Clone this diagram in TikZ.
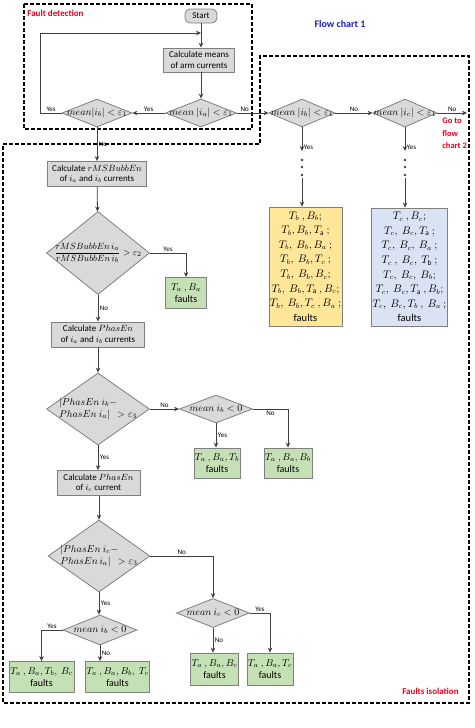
\documentclass[tikz,border=0pt]{standalone}
\usepackage{amsmath}
\usepackage{fontspec}
\setmainfont{Carlito}
\usetikzlibrary{arrows.meta, positioning, calc, shapes.geometric}

\definecolor{boxgray}{HTML}{D9D9D9}
\definecolor{edgegray}{HTML}{7F7F7F}
\definecolor{lineg}{HTML}{404040}
\definecolor{faultgreen}{HTML}{C5E0B4}
\definecolor{faultyellow}{HTML}{FFE699}
\definecolor{faultblue}{HTML}{DAE3F3}
\definecolor{tagred}{HTML}{E8001C}
\definecolor{tagblue}{HTML}{1A1AD6}

% text of a diamond, kept out of the diamond size
\newcommand{\dtext}[2][c]{\makebox[0pt]{\begin{tabular}{@{}#1@{}}#2\end{tabular}}}

\begin{document}
\begin{tikzpicture}[
  x=1pt, y=-1pt,
  >={Stealth[length=5pt, width=4.5pt]}, line width=0.8pt,
  font=\fontsize{9}{10.5}\selectfont,
  term/.style={rectangle, rounded corners=5pt, draw=edgegray, fill=boxgray, inner sep=1pt},
  proc/.style={rectangle, draw=edgegray, fill=boxgray, align=center, inner sep=1pt},
  test/.style={diamond, draw=edgegray, fill=boxgray, inner sep=0pt, font=\fontsize{10}{12}\selectfont},
  fault/.style={rectangle, draw=edgegray, fill=faultgreen, align=center, inner sep=1pt, font=\fontsize{10}{12.5}\selectfont},
  group/.style={rectangle, draw=edgegray, align=center, inner sep=1pt, font=\fontsize{10.5}{14.6}\selectfont},
  flow/.style={->, draw=lineg},
  yn/.style={font=\fontsize{7}{8}\selectfont, inner sep=1.5pt},
  zone/.style={draw=black, line width=1.5pt, dash pattern=on 4pt off 2pt},
  tag/.style={font=\fontsize{9}{12.5}\selectfont\bfseries, inner sep=0pt}
]
  \useasboundingbox (0,0) rectangle (474,728);

  % dashed zones
  \draw[zone] (24,4) rectangle (252,129);
  \draw[zone] (3,144) -- (260,144) -- (260,56) -- (469,56) -- (469,703) -- (3,703) -- cycle;
  \node[tag, text=tagred, anchor=west] (fdtag) at (27,13.5) {Fault detection};
  \node[tag, text=tagblue, font=\fontsize{10}{11}\selectfont\bfseries] (fctag) at (340,24) {Flow chart 1};
  \node[tag, text=tagred, anchor=north west, align=left, font=\fontsize{8.5}{12.5}\selectfont\bfseries] (gotag) at (442,118) {Go to\\flow\\chart 2};
  \node[tag, text=tagred, anchor=east] (fitag) at (459,691.5) {Faults isolation};

  % fault detection
  \node[term, minimum width=32, minimum height=14] (start) at (201,16) {Start};
  \node[proc, minimum width=71, minimum height=24] (means) at (199,60) {Calculate means\\of arm currents};
  \node[test, minimum width=71, minimum height=28] (ta) at (201,113) {\dtext{$mean\ |i_a| < \varepsilon_1$}};
  \node[test, minimum width=70, minimum height=28] (tb) at (97,113) {\dtext{$mean|i_b| < \varepsilon_1$}};
  \coordinate (loop) at (201,33);

  \draw[flow] (start) -- (start |- means.north);
  \draw[flow] (ta.north |- means.south) -- (ta.north);
  \draw[flow] (ta.west) -- node[yn, above] {Yes} (tb.east);
  \draw[flow] (tb.west) -- node[yn, above] {Yes} ++(-21,0) |- (loop);

  % other phases
  \node[test, minimum width=66, minimum height=28] (tb2) at (302,113) {\dtext{$mean\ |i_b| < \varepsilon_1$}};
  \node[test, minimum width=64, minimum height=28] (tc2) at (405,113) {\dtext{$mean\ |i_c| < \varepsilon_1$}};
  \coordinate (goto) at (467,113);
  \draw[flow] (ta.east) -- node[yn, above, pos=0.25] {No} (tb2.west);
  \draw[flow] (tb2.east) -- node[yn, above] {No} (tc2.west);
  \draw[flow] (tc2.east) -- node[yn, above] {No} (goto);

  \node[group, fill=faultyellow, minimum width=73, minimum height=119] (yb) at (305.5,266.5)
    {$T_b\ ,B_b;$\\ $T_b,B_b,T_{\mathrm{a}}\ ;$\\ $T_b,\ B_b,B_a\ ;$\\ $T_b,\ B_b,T_c\ ;$\\
     $T_b,\ B_b,B_c;$\\ $T_b,\ B_b,T_{\mathrm{a}}\ ,B_c;$\\ $T_b,\ B_b,T_c\ ,B_a\ ;$\\ faults};
  \node[group, fill=faultblue, minimum width=73, minimum height=118] (bb) at (409.5,267)
    {$T_c\ ,B_c;$\\ $T_c,\ B_c,T_{\mathrm{a}}\ ;$\\ $T_c,\ B_c,\ B_a\ ;$\\ $T_c\ ,\ B_c,\ T_{\mathrm{b}}\ ;$\\
     $T_c,\ B_c,\ B_b;$\\ $T_c,\ B_c,T_{\mathrm{a}}\ ,B_b;$\\ $T_c,\ B_c,T_b\ ,\ B_a\ ;$\\ faults};

  \coordinate (bup) at (302,151);
  \coordinate (bdown) at (302,178);
  \coordinate (cup) at (405,151);
  \coordinate (cdown) at (405,178);
  \foreach \k in {160,167,175} {
    \fill[lineg] (302,\k) circle (1.3);
    \fill[lineg] (405,\k) circle (1.3);
  }
  \draw[flow] (tb2.south) -- node[yn, right, pos=0.85] {Yes} (bup);
  \draw[flow] (tc2.south) -- node[yn, right, pos=0.85] {Yes} (cup);
  \draw[flow] (bdown) -- (bdown |- yb.north);
  \draw[flow] (cdown) -- (cdown |- bb.north);

  % faults isolation, phases a and b
  \node[proc, minimum width=99, minimum height=25] (rms) at (97,174) {Calculate $rMSBubbEn$\\of $i_a$ and $i_b$ currents};
  \node[test, minimum width=103, minimum height=83] (ratio) at (98,253)
    {\dtext{\fontsize{9.5}{11}\selectfont$\dfrac{rMSBubbEn\,i_a}{rMSBubbEn\,i_b} > \varepsilon_2$}};
  \node[fault, minimum width=41, minimum height=31] (fab) at (186,293) {$T_a\ ,B_a$\\faults};
  \node[proc, minimum width=93, minimum height=25] (phab) at (98,334.5) {Calculate $PhasEn$\\of $i_a$ and $i_b$ currents};
  \node[test, minimum width=103, minimum height=72] (pd1) at (98,409)
    {\dtext[l]{$|PhasEn\ i_b -$\\ $PhasEn\ i_a|\ \ > \varepsilon_3$}};
  \node[test, minimum width=73, minimum height=28] (mib1) at (216,409) {\dtext{$mean\ i_b < 0$}};
  \node[fault, minimum width=46, minimum height=30] (f1) at (217,463) {$T_a\ ,B_a,T_b$\\faults};
  \node[fault, minimum width=44, minimum height=30] (f2) at (288,463) {$T_a\ ,B_a,B_b$\\faults};

  \draw[flow] (tb.south) -- node[yn, right] {No} (rms.north);
  \draw[flow] (rms) -- (ratio);
  \draw[flow] (ratio.east) -| node[yn, above, pos=0.25] {Yes} (fab.north);
  \draw[flow] (ratio.south) -- node[yn, right] {No} (phab.north);
  \draw[flow] (phab) -- (pd1);
  \draw[flow] (pd1.east) -- node[yn, above] {No} (mib1.west);
  \draw[flow] (mib1.south) -- node[yn, right] {Yes} (mib1.south |- f1.north);
  \draw[flow] (mib1.east) -| node[yn, below, pos=0.25] {No} (f2.north);

  % phase c
  \node[proc, minimum width=83, minimum height=25] (pc) at (98.5,483) {Calculate $PhasEn$\\of $i_c$ current};
  \node[test, minimum width=102, minimum height=72] (pd2) at (99,556)
    {\dtext[l]{$|PhasEn\ i_c -$\\ $PhasEn\,i_a|\ \ > \varepsilon_3$}};
  \node[test, minimum width=74, minimum height=30] (mib2) at (100,630) {\dtext{$mean\ i_b < 0$}};
  \node[fault, minimum width=65, minimum height=31] (f3) at (41.5,677) {$T_a\ ,B_a,T_b,\ B_c$\\faults};
  \node[fault, minimum width=63, minimum height=31] (f4) at (117.5,677) {$T_a\ ,B_a,B_b,\ T_c$\\faults};
  \node[test, minimum width=73, minimum height=29] (mic) at (213,613) {\dtext{$mean\ i_c < 0$}};
  \node[fault, minimum width=45, minimum height=32] (f5) at (214.5,669) {$T_a\ ,B_a,B_c$\\faults};
  \node[fault, minimum width=44, minimum height=32] (f6) at (270,669) {$T_a\ ,B_a,T_c$\\faults};

  \draw[flow] (pd1.south) -- node[yn, right] {Yes} (pc.north -| pd1.south);
  \draw[flow] (pc.south -| pd2.north) -- (pd2.north);
  \draw[flow] (pd2.south) -- node[yn, right] {Yes} (pd2.south |- mib2.north);
  \draw[flow] (mib2.west) -| node[yn, above, pos=0.25] {Yes} (f3.north);
  \draw[flow] (mib2.south) -- node[yn, right] {No} (mib2.south |- f4.north);
  \draw[flow] (pd2.east) -| node[yn, above, pos=0.25] {No} (mic.north);
  \draw[flow] (mic.south) -- node[yn, right] {No} (mic.south |- f5.north);
  \draw[flow] (mic.east) -| node[yn, above, pos=0.25] {Yes} (f6.north);
\end{tikzpicture}
\end{document}
